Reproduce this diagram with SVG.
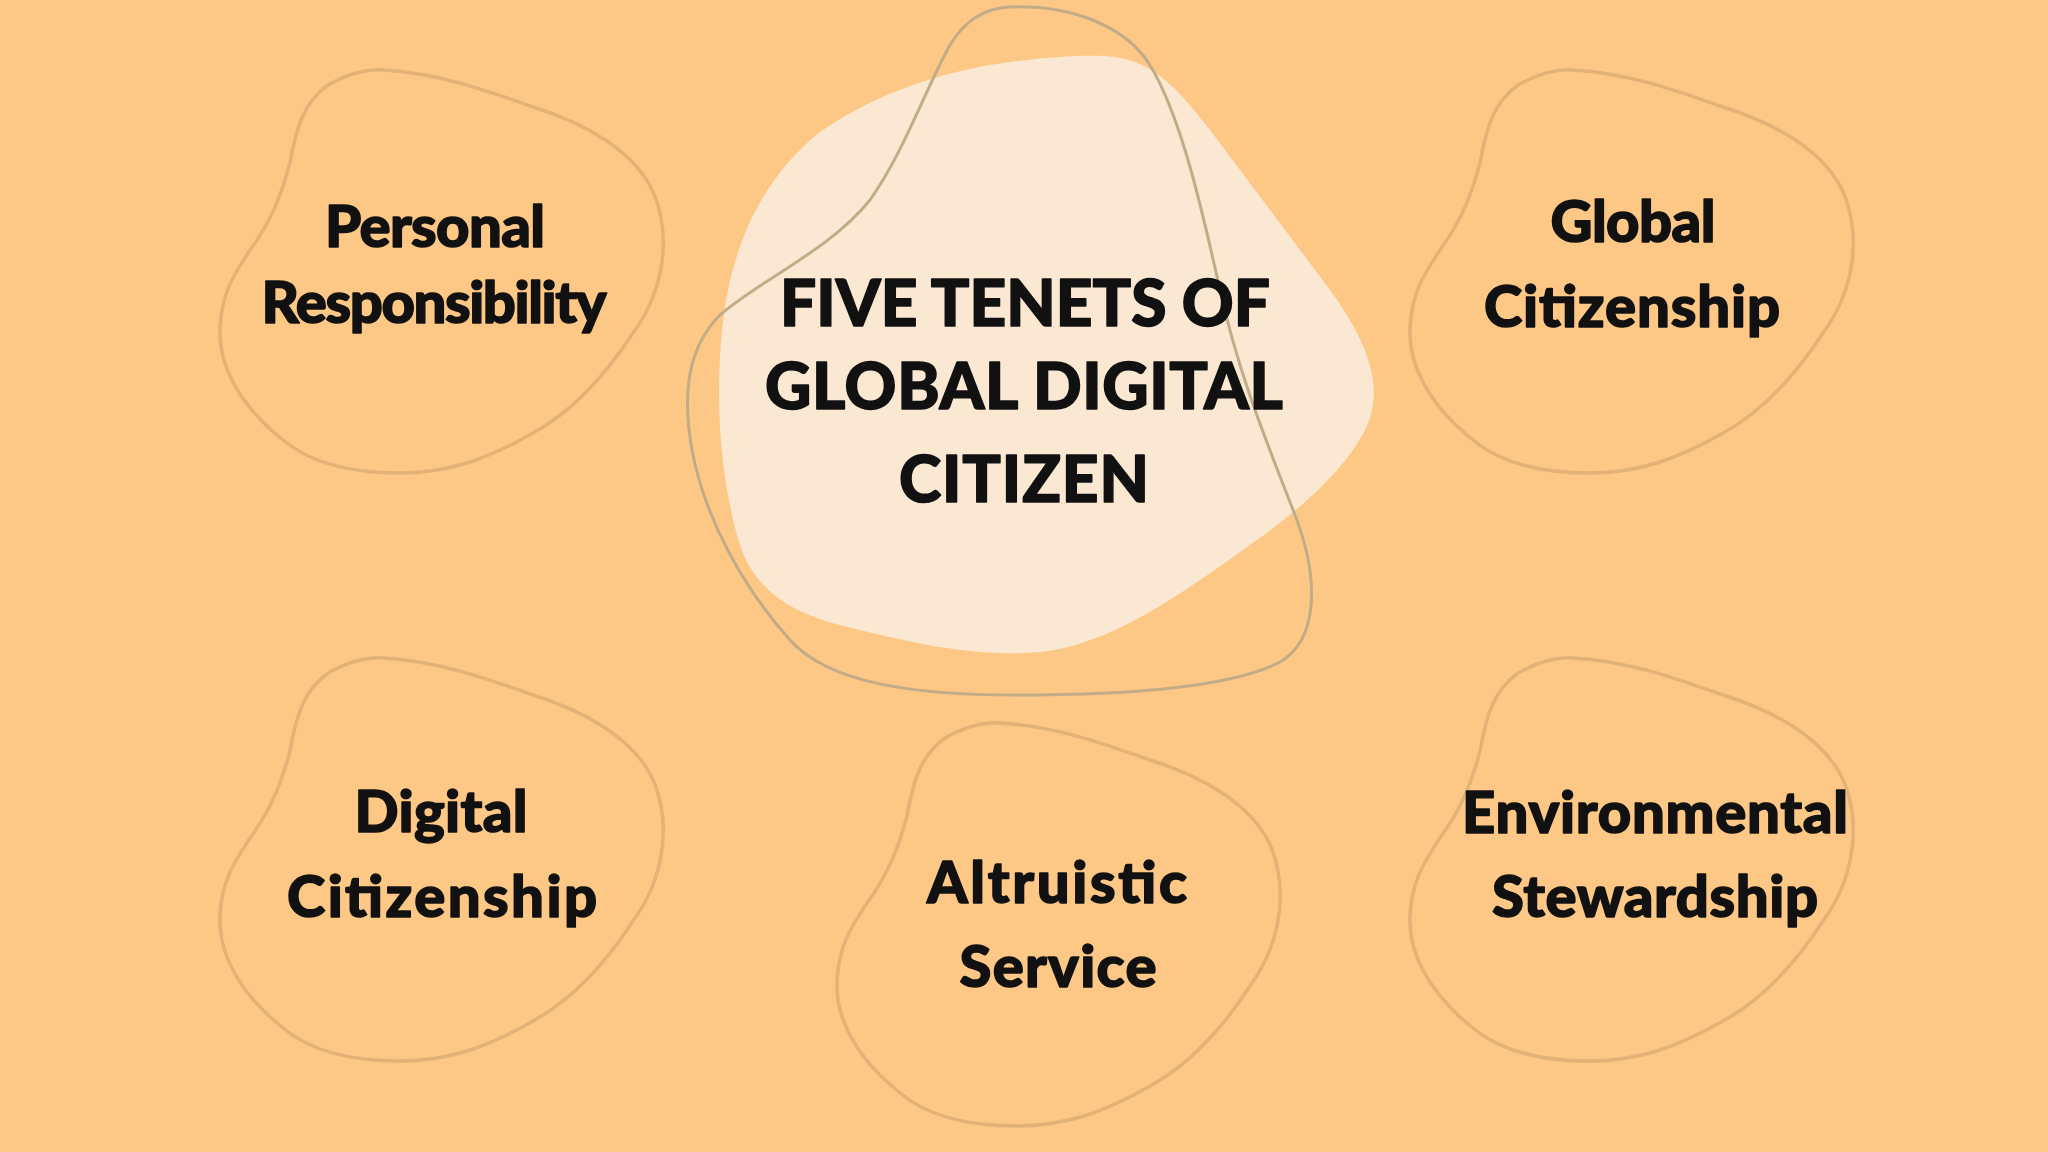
<svg xmlns="http://www.w3.org/2000/svg" width="2048" height="1152" viewBox="0 0 2048 1152">
  <defs>
    <path id="blob" d="M165,1 C220,4 270,22 315,38 C360,52 420,80 438,130 C455,180 440,230 415,264 C385,310 350,345 315,364 C270,390 230,404 182,404 C130,404 90,392 65,371 C20,335 0,295 2,258 C4,220 20,200 32,181 C55,150 65,120 72,94 C78,60 85,34 110,16 C130,5 150,0 165,1 Z"/>
  </defs>
  <style>
    .bg { fill: #FDC886; }
    .blob { fill: none; stroke: #E2B277; stroke-width: 3.5; }
    .cream { fill: #FAE8D2; }
    .outline { fill: none; stroke: #C2AC88; stroke-width: 3; }
    .lbl { font-family: Lato, "Noto Sans", "DejaVu Sans", sans-serif; font-weight: 900; font-size: 58px; fill: #111111; stroke: #111111; stroke-width: 1.5; stroke-linejoin: round; text-anchor: middle; }
    .title { font-size: 64px; }
  </style>
  <rect class="bg" x="0" y="0" width="2048" height="1152"/>

  <g id="center">
    <path class="cream" d="M1104,56 C1150,58 1175,85 1210,130 L1330,290 C1370,345 1385,390 1365,430 C1345,470 1300,510 1250,545 C1180,595 1110,645 1040,652 C970,658 900,640 840,625 C790,612 755,590 740,545 C720,480 715,400 722,330 C730,250 760,180 820,132 C880,90 950,70 1010,62 C1050,57 1080,55 1104,56 Z"/>
    <path class="outline" d="M1010,7 C1070,5 1125,25 1150,65 C1180,115 1200,200 1220,290 C1240,380 1270,450 1295,515 C1320,580 1318,640 1280,662 C1230,688 1120,695 1015,695 C920,695 830,685 790,640 C745,590 705,520 692,450 C683,400 685,350 720,315 C760,280 830,250 870,200 C905,150 925,90 950,45 C965,20 985,8 1010,7 Z"/>
    <text class="lbl title" x="1025" y="326" textLength="490" lengthAdjust="spacing">FIVE TENETS OF</text>
    <text class="lbl title" x="1024" y="409" textLength="518" lengthAdjust="spacing">GLOBAL DIGITAL</text>
    <text class="lbl title" x="1024" y="502" textLength="250" lengthAdjust="spacing">CITIZEN</text>
  </g>

  <g id="personal-responsibility">
    <use href="#blob" class="blob" transform="translate(218,69)"/>
    <text class="lbl" x="435" y="247" textLength="220" lengthAdjust="spacing">Personal</text>
    <text class="lbl" x="434" y="323" textLength="345" lengthAdjust="spacing">Responsibility</text>
  </g>

  <g id="global-citizenship">
    <use href="#blob" class="blob" transform="translate(1408,69)"/>
    <text class="lbl" x="1633" y="242" textLength="165" lengthAdjust="spacing">Global</text>
    <text class="lbl" x="1632" y="327" textLength="296" lengthAdjust="spacing">Citizenship</text>
  </g>

  <g id="digital-citizenship">
    <use href="#blob" class="blob" transform="translate(218,657)"/>
    <text class="lbl" x="441" y="832" textLength="173" lengthAdjust="spacing">Digital</text>
    <text class="lbl" x="442" y="917" textLength="310" lengthAdjust="spacing">Citizenship</text>
  </g>

  <g id="altruistic-service">
    <use href="#blob" class="blob" transform="translate(835,722)"/>
    <text class="lbl" x="1057" y="903" textLength="260" lengthAdjust="spacing">Altruistic</text>
    <text class="lbl" x="1058" y="987" textLength="197" lengthAdjust="spacing">Service</text>
  </g>

  <g id="environmental-stewardship">
    <use href="#blob" class="blob" transform="translate(1408,657)"/>
    <text class="lbl" x="1655" y="833" textLength="386" lengthAdjust="spacing">Environmental</text>
    <text class="lbl" x="1655" y="917" textLength="326" lengthAdjust="spacing">Stewardship</text>
  </g>

  <g id="connectors"></g>
</svg>
